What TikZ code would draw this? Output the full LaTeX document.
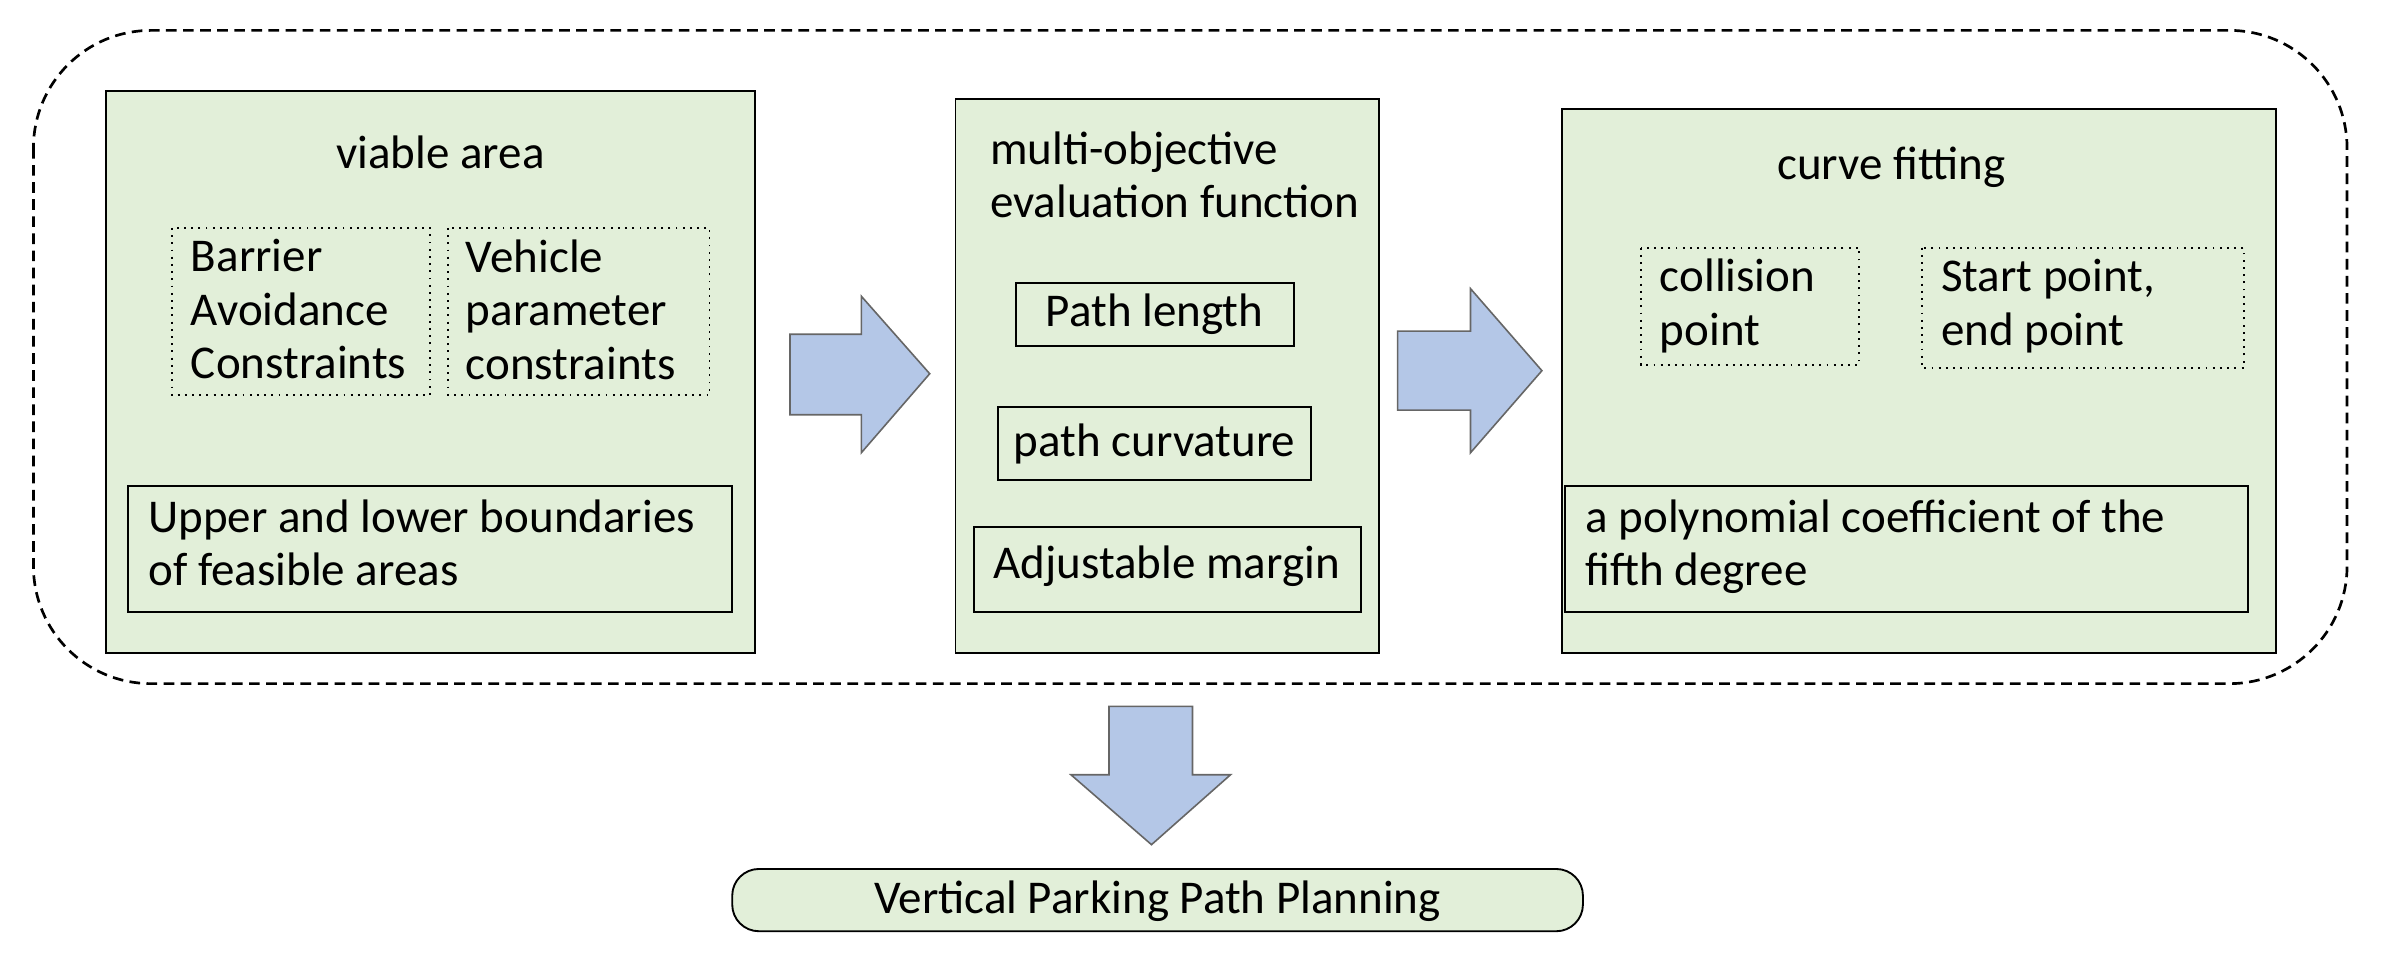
\documentclass[tikz,border=0pt]{standalone}
\usepackage{fontspec}
\setmainfont{Carlito}
\usetikzlibrary{shapes.arrows}
\definecolor{gfill}{HTML}{E2EFD9}
\definecolor{afill}{HTML}{B4C7E7}
\begin{document}
\begin{tikzpicture}[x=0.01cm,y=-0.01cm,
  txt/.style={font=\fontsize{8.8}{10}\selectfont,align=left,inner sep=0},
  gbox/.style={draw=black,fill=gfill,line width=0.35pt},
  dbox/.style={draw=black,densely dotted,line width=0.35pt},
  sbox/.style={draw=black,line width=0.35pt},
  arr/.style={draw=gray!80!black,fill=afill,line width=0.3pt}]
\useasboundingbox (0,0) rectangle (1568,632);
\draw[dash pattern=on 2pt off 1.2pt,line width=0.5pt,rounded corners=22] (22,20) rectangle (1545,450);
% box1
\draw[gbox] (70,60) rectangle (497,430);
\node[txt] (t1) at (290,100) {viable area};
\draw[dbox] (113,150) rectangle (283,260);
\node[txt,anchor=north west] (b1) at (125,157) {Barrier\\Avoidance\\Constraints};
\draw[dbox] (295,150) rectangle (467,260);
\node[txt,anchor=north west] (b2) at (306,157) {Vehicle\\parameter\\constraints};
\draw[sbox] (84,320) rectangle (482,403);
\node[txt,anchor=north west] (b3) at (97,328) {Upper and lower boundaries\\of feasible areas};
% arrow1
\draw[arr] (520,220) -- (567,220) -- (567,195) -- (612,246) -- (567,298) -- (567,273) -- (520,273) -- cycle;
% box2
\draw[gbox] (629,65) rectangle (908,430);
\node[txt,anchor=north west] (t2) at (651,86) {multi-objective\\evaluation function};
\draw[sbox] (669,186) rectangle (852,228);
\node[txt] (p1) at (760,207) {Path length};
\draw[sbox] (657,268) rectangle (863,316);
\node[txt] (p2) at (760,292) {path curvature};
\draw[sbox] (641,347) rectangle (896,403);
\node[txt] (p3) at (768,373) {Adjustable margin};
% arrow2
\draw[arr] (920,218) -- (968,218) -- (968,190) -- (1015,244) -- (968,298) -- (968,270) -- (920,270) -- cycle;
% box3
\draw[gbox] (1028,72) rectangle (1498,430);
\node[txt] (t3) at (1245,110) {curve fitting};
\draw[dbox] (1080,163) rectangle (1224,240);
\node[txt,anchor=north west] (c1) at (1092,170) {collision\\point};
\draw[dbox] (1265,163) rectangle (1477,242);
\node[txt,anchor=north west] (c2) at (1277,170) {Start point,\\end point};
\draw[sbox] (1030,320) rectangle (1480,403);
\node[txt,anchor=north west] (c3) at (1043,328) {a polynomial coefficient of the\\fifth degree};
% down arrow
\draw[arr] (730,465) -- (785,465) -- (785,510) -- (810,510) -- (758,556) -- (705,510) -- (730,510) -- cycle;
% bottom
\draw[gbox,rounded corners=5] (482,572) rectangle (1042,613);
\node[txt] (v) at (762,593) {Vertical Parking Path Planning};
\end{tikzpicture}
\end{document}
